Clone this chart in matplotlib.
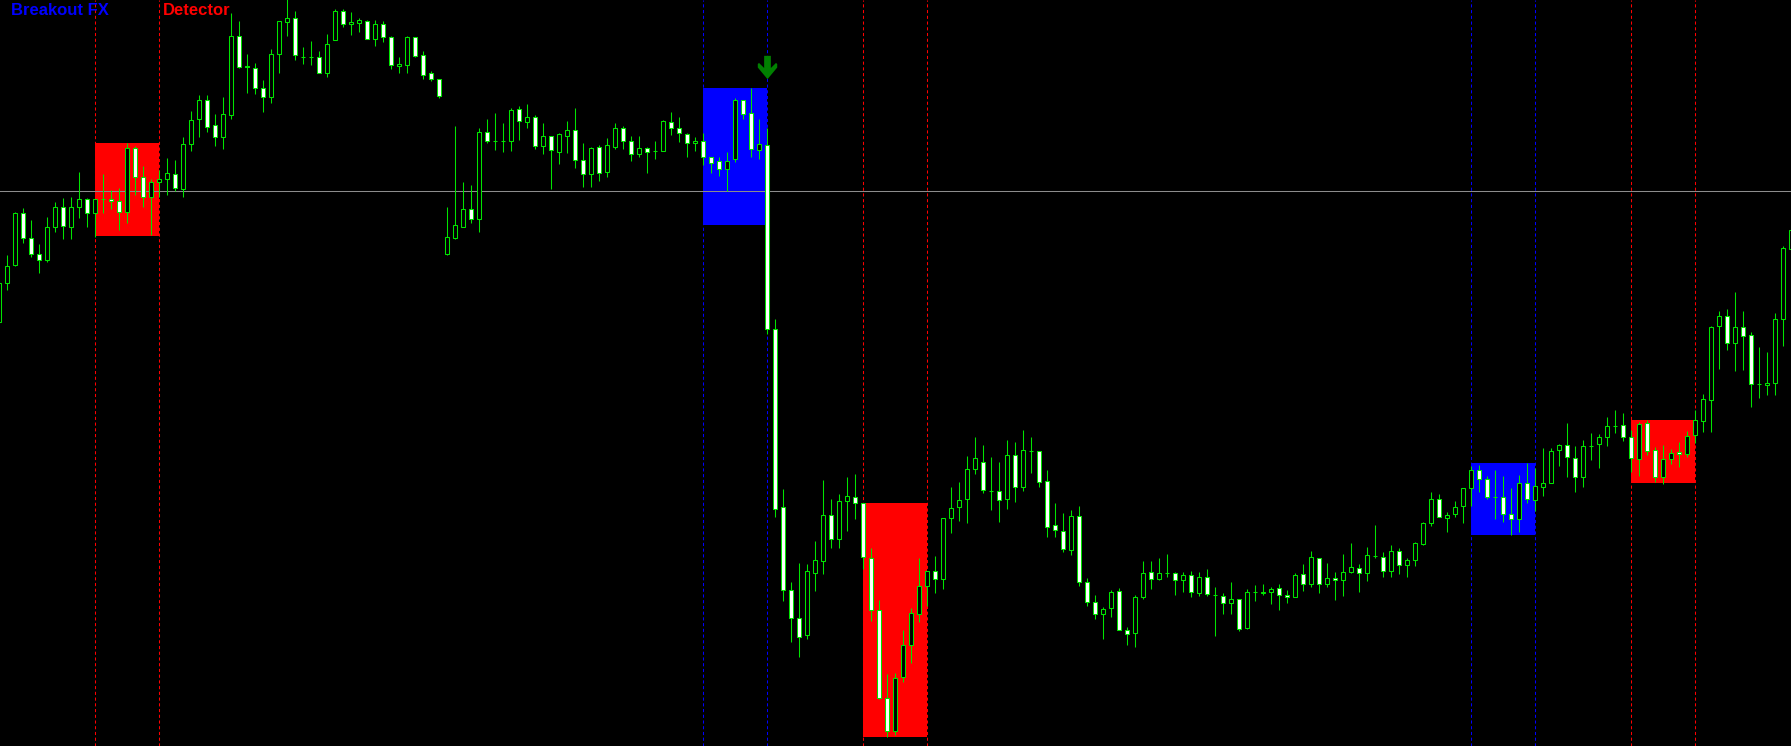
import numpy as np
import matplotlib
matplotlib.use('Agg')
import matplotlib.pyplot as plt
from matplotlib.path import Path

# bar data, price levels in points (one row per 10 bars)
opens = [424, 463, 481, 533, 508, 492, 486, 519, 539, 519,
         539, 547, 533, 547, 547, 545, 534, 598, 569, 549,
         564, 567, 572, 557, 602, 627, 646, 621, 609, 631,
         710, 680, 678, 658, 649, 692, 724, 728, 689, 689,
         689, 673, 706, 735, 722, 723, 725, 707, 722, 709,
         680, 681, 709, 691, 673, 667, 492, 508, 519, 537,
         527, 614, 605, 605, 605, 637, 624, 629, 600, 610,
         594, 610, 616, 586, 572, 599, 574, 599, 618, 605,
         592, 598, 595, 595, 624, 618, 612, 603, 605, 589,
         585, 577, 587, 646, 633, 596, 601, 417, 239, 156,
         128, 111, 173, 185, 231, 207, 245, 249, 243, 188,
         136, 48, 15, 69, 101, 132, 160, 175, 167, 228,
         239, 247, 277, 284, 255, 255, 247, 291, 259, 295,
         295, 265, 221, 215, 196, 230, 164, 144, 132, 138,
         155, 116, 113, 149, 174, 167, 173, 173, 166, 171,
         153, 169, 151, 150, 143, 147, 118, 154, 153, 154,
         158, 151, 149, 172, 162, 188, 162, 168, 166, 174,
         178, 173, 190, 189, 175, 195, 181, 186, 202, 223,
         247, 228, 232, 240, 258, 276, 267, 249, 249, 232,
         227, 263, 246, 259, 263, 296, 301, 288, 269, 300,
         302, 309, 320, 321, 309, 287, 323, 296, 269, 287,
         294, 292, 311, 325, 346, 420, 430, 403, 419, 411,
         362, 361, 363, 427, 497]
highs = [465, 491, 534, 538, 526, 502, 529, 544, 548, 549,
         574, 548, 547, 572, 556, 558, 603, 600, 580, 567,
         576, 588, 586, 609, 635, 651, 651, 632, 649, 733,
         725, 692, 683, 666, 697, 725, 750, 735, 699, 705,
         695, 712, 737, 737, 734, 728, 726, 726, 725, 710,
         689, 710, 709, 695, 675, 667, 539, 620, 564, 561,
         618, 627, 633, 623, 638, 640, 642, 631, 623, 610,
         613, 625, 638, 603, 599, 601, 608, 623, 620, 610,
         610, 599, 605, 626, 634, 629, 613, 609, 613, 589,
         589, 594, 648, 646, 658, 627, 618, 427, 257, 164,
         183, 182, 205, 266, 247, 252, 269, 272, 243, 198,
         146, 72, 73, 116, 138, 188, 175, 190, 228, 259,
         264, 290, 309, 301, 289, 284, 306, 304, 316, 309,
         295, 276, 243, 233, 236, 240, 168, 151, 139, 156,
         158, 119, 151, 185, 185, 188, 192, 174, 174, 175,
         174, 177, 159, 153, 164, 147, 157, 161, 162, 159,
         162, 156, 173, 182, 195, 188, 183, 174, 192, 203,
         182, 199, 221, 194, 201, 198, 188, 204, 224, 254,
         252, 234, 245, 258, 280, 281, 270, 276, 270, 258,
         271, 283, 278, 298, 298, 302, 323, 300, 306, 313,
         312, 329, 336, 333, 316, 324, 326, 299, 301, 297,
         304, 315, 336, 352, 420, 435, 437, 454, 435, 414,
         399, 394, 433, 500, 521]
lows = [422, 456, 480, 503, 489, 473, 484, 514, 507, 507,
        528, 519, 509, 533, 537, 516, 523, 551, 539, 511,
        549, 551, 555, 549, 595, 609, 614, 600, 597, 627,
        678, 653, 652, 634, 643, 673, 710, 686, 682, 681,
        673, 669, 706, 719, 711, 714, 707, 700, 704, 677,
        673, 673, 689, 667, 665, 648, 491, 507, 519, 523,
        514, 603, 596, 594, 595, 606, 618, 597, 592, 557,
        582, 593, 578, 559, 559, 565, 569, 597, 597, 585,
        589, 573, 587, 595, 611, 604, 589, 595, 581, 573,
        570, 555, 584, 627, 589, 587, 412, 229, 145, 104,
        89, 107, 155, 172, 198, 198, 215, 227, 177, 125,
        47, 9, 11, 64, 83, 124, 140, 153, 157, 213,
        225, 223, 272, 253, 236, 224, 237, 244, 255, 273,
        259, 209, 209, 194, 191, 160, 140, 127, 107, 129,
        116, 101, 99, 147, 157, 166, 169, 151, 154, 149,
        150, 150, 110, 132, 132, 115, 117, 145, 151, 142,
        136, 143, 149, 155, 159, 153, 159, 146, 150, 173,
        154, 165, 188, 169, 169, 172, 169, 180, 201, 220,
        229, 214, 229, 223, 240, 254, 247, 227, 224, 211,
        214, 243, 235, 250, 263, 280, 269, 254, 259, 286,
        278, 300, 313, 305, 274, 270, 291, 264, 262, 282,
        279, 289, 303, 314, 314, 377, 396, 375, 376, 339,
        348, 351, 351, 400, 496]
closes = [463, 480, 533, 508, 492, 486, 519, 539, 520, 539,
          547, 533, 547, 547, 545, 534, 598, 569, 549, 564,
          567, 573, 558, 602, 626, 646, 619, 609, 632, 710,
          679, 679, 658, 649, 692, 725, 728, 691, 689, 689,
          673, 702, 735, 722, 724, 726, 707, 722, 709, 681,
          682, 709, 690, 671, 667, 650, 509, 521, 537, 527,
          614, 605, 605, 605, 636, 625, 629, 600, 610, 596,
          612, 616, 586, 572, 598, 573, 601, 618, 605, 592,
          598, 594, 595, 625, 618, 613, 603, 605, 589, 583,
          577, 585, 646, 632, 597, 602, 417, 237, 156, 128,
          109, 175, 186, 231, 207, 245, 250, 243, 189, 136,
          48, 15, 68, 101, 133, 160, 175, 167, 228, 238,
          246, 277, 288, 256, 255, 246, 291, 259, 296, 295,
          264, 219, 216, 197, 230, 164, 144, 132, 137, 154,
          116, 112, 149, 173, 167, 173, 173, 166, 171, 154,
          169, 152, 151, 143, 147, 117, 154, 154, 154, 157,
          151, 149, 171, 162, 189, 162, 168, 166, 174, 179,
          173, 191, 190, 175, 195, 181, 186, 203, 223, 247,
          229, 231, 239, 258, 276, 267, 249, 249, 232, 227,
          263, 247, 260, 263, 295, 301, 289, 269, 300, 300,
          309, 320, 320, 309, 288, 322, 295, 269, 287, 293,
          292, 310, 326, 347, 419, 430, 403, 419, 410, 362,
          362, 363, 427, 498, 516]

# breakout zones found by the indicator
zone_start = [12, 88, 108, 184, 204]
zone_end = [20, 96, 116, 192, 212]
zone_top = [602.7, 658, 243.3, 283, 326]
zone_bottom = [510.3, 521, 9.3, 211, 263.3]
zone_color = ['#ff0000', '#0000ff', '#ff0000', '#0000ff', '#ff0000']

level = 554.7          # horizontal price line
signal_bar = 96        # sell arrow
signal_price = 678.7

candle_green = '#00e400'

o = np.array(opens, dtype=float)
h = np.array(highs, dtype=float)
l = np.array(lows, dtype=float)
c = np.array(closes, dtype=float)
x = np.arange(len(o))

fig = plt.figure(figsize=(17.91, 7.46), dpi=100, facecolor='black')
ax = fig.add_axes([0, 0, 1, 1])
ax.set_facecolor('black')

# zones
ax.bar(zone_start, np.array(zone_top) - np.array(zone_bottom),
       width=np.array(zone_end) - np.array(zone_start), bottom=zone_bottom,
       align='edge', color=zone_color, linewidth=0, zorder=1)
for s, e, col in zip(zone_start, zone_end, zone_color):
    for b in (s, e):
        ax.axvline(b, color=col, lw=0.75, ls=(0, (3, 2.5)), zorder=1.5)

ax.axhline(level, color='#8c8c8c', lw=0.75, zorder=2)

# candles
ax.vlines(x, l, h, color=candle_green, lw=0.75, zorder=3)
bear = c <= o
fills = np.where(bear, 'white', 'black')
bottoms = np.minimum(o, c)
heights = np.abs(c - o)
ax.bar(x, heights, width=0.5, bottom=bottoms, color=fills,
       edgecolor=candle_green, linewidth=0.75, zorder=4)

# sell arrow
arrow = Path([(-3.35, 11.65), (3.35, 11.65), (3.35, -0.5), (8.5, 4.6),
              (9.7, 3.4), (9.7, 0.0), (0, -11.65), (-9.7, 0.0),
              (-9.7, 3.4), (-8.5, 4.6), (-3.35, -0.5), (-3.35, 11.65)],
             closed=True)
ax.plot([signal_bar], [signal_price], marker=arrow, markersize=16.8,
        color='#008000', markeredgewidth=0, zorder=5)

ax.set_xlim(0.084, 223.96)
ax.set_ylim(0, 746)
ax.set_axis_off()

fig.text(11 / 1791, 1 - 15 / 746, 'Breakout FX', color='#0000ff',
         fontsize=12, fontweight='bold', family='Liberation Sans', va='baseline')
fig.text(163 / 1791, 1 - 15 / 746, 'Detector', color='#ff0000',
         fontsize=12, fontweight='bold', family='Liberation Sans', va='baseline')

fig.savefig('out.png', dpi=100, facecolor='black')
